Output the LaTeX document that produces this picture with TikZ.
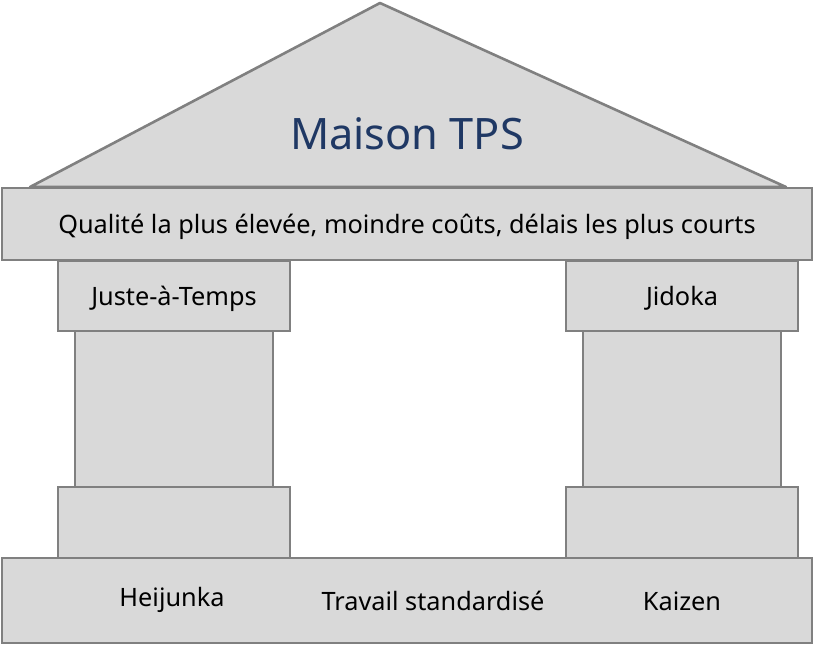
\documentclass[tikz,border=0pt]{standalone}
\usepackage{fontspec}
\setmainfont{Noto Sans}
\usetikzlibrary{positioning}
\definecolor{gris}{RGB}{217,217,217}
\definecolor{trait}{RGB}{128,128,128}
\definecolor{bleuTitre}{RGB}{31,56,100}

\begin{document}
\begin{tikzpicture}
	[
	x=1pt, y=-1pt,
	node distance=0pt,
        bloc/.style={
            rectangle,
            draw=trait,
            line width=2.6pt,
            fill=gris,
            inner sep=0pt,
            outer sep=0pt,
            text depth=0pt,
            font=\fontsize{25.3}{30}\selectfont
        },
        chapiteau/.style={
            bloc,
            minimum width=232pt,
            minimum height=70pt
        },
        fut/.style={
            bloc,
            minimum width=198pt,
            minimum height=156pt
        },
        socle/.style={
            bloc,
            minimum width=232pt,
            minimum height=71pt
        },
        texteBas/.style={
            inner sep=0pt,
            font=\fontsize{25.3}{30}\selectfont
        },
        titre/.style={
            text=bleuTitre,
            inner sep=0pt,
            font=\fontsize{43.3}{52}\selectfont
        }
    ]
    \useasboundingbox (0,0) rectangle (815,646);

    % toit
    \coordinate (faite) at (380,3);
    \coordinate (egoutGauche) at (30,187);
    \coordinate (egoutDroit) at (786,187);
    \filldraw[fill=gris, draw=trait, line width=2.6pt, line join=round] (egoutGauche) -- (faite) -- (egoutDroit) -- cycle;
    \node(maison) at (407,134) [titre] {Maison TPS};

    % fondation
    \node(fondation) at (407,600.5) [bloc, minimum width=810pt, minimum height=85pt] {};
    \node(heijunka) at (172,600) [texteBas] {Heijunka};
    \node(travail) at (433,601) [texteBas] {Travail standardisé};
    \node(kaizen) at (682,601) [texteBas] {Kaizen};

    % piliers
    \node(justeATemps) at (174,296) [chapiteau] {Juste-à-Temps};
    \node(futGauche) [fut, below=of justeATemps] {};
    \node(socleGauche) [socle, below=of futGauche] {};

    \node(jidoka) at (682,296) [chapiteau] {Jidoka};
    \node(futDroit) [fut, below=of jidoka] {};
    \node(socleDroit) [socle, below=of futDroit] {};

    % poutre
    \node(poutre) at (407,224) [bloc, minimum width=810pt, minimum height=72pt] {Qualité la plus élevée, moindre coûts, délais les plus courts};
\end{tikzpicture}
\end{document}
